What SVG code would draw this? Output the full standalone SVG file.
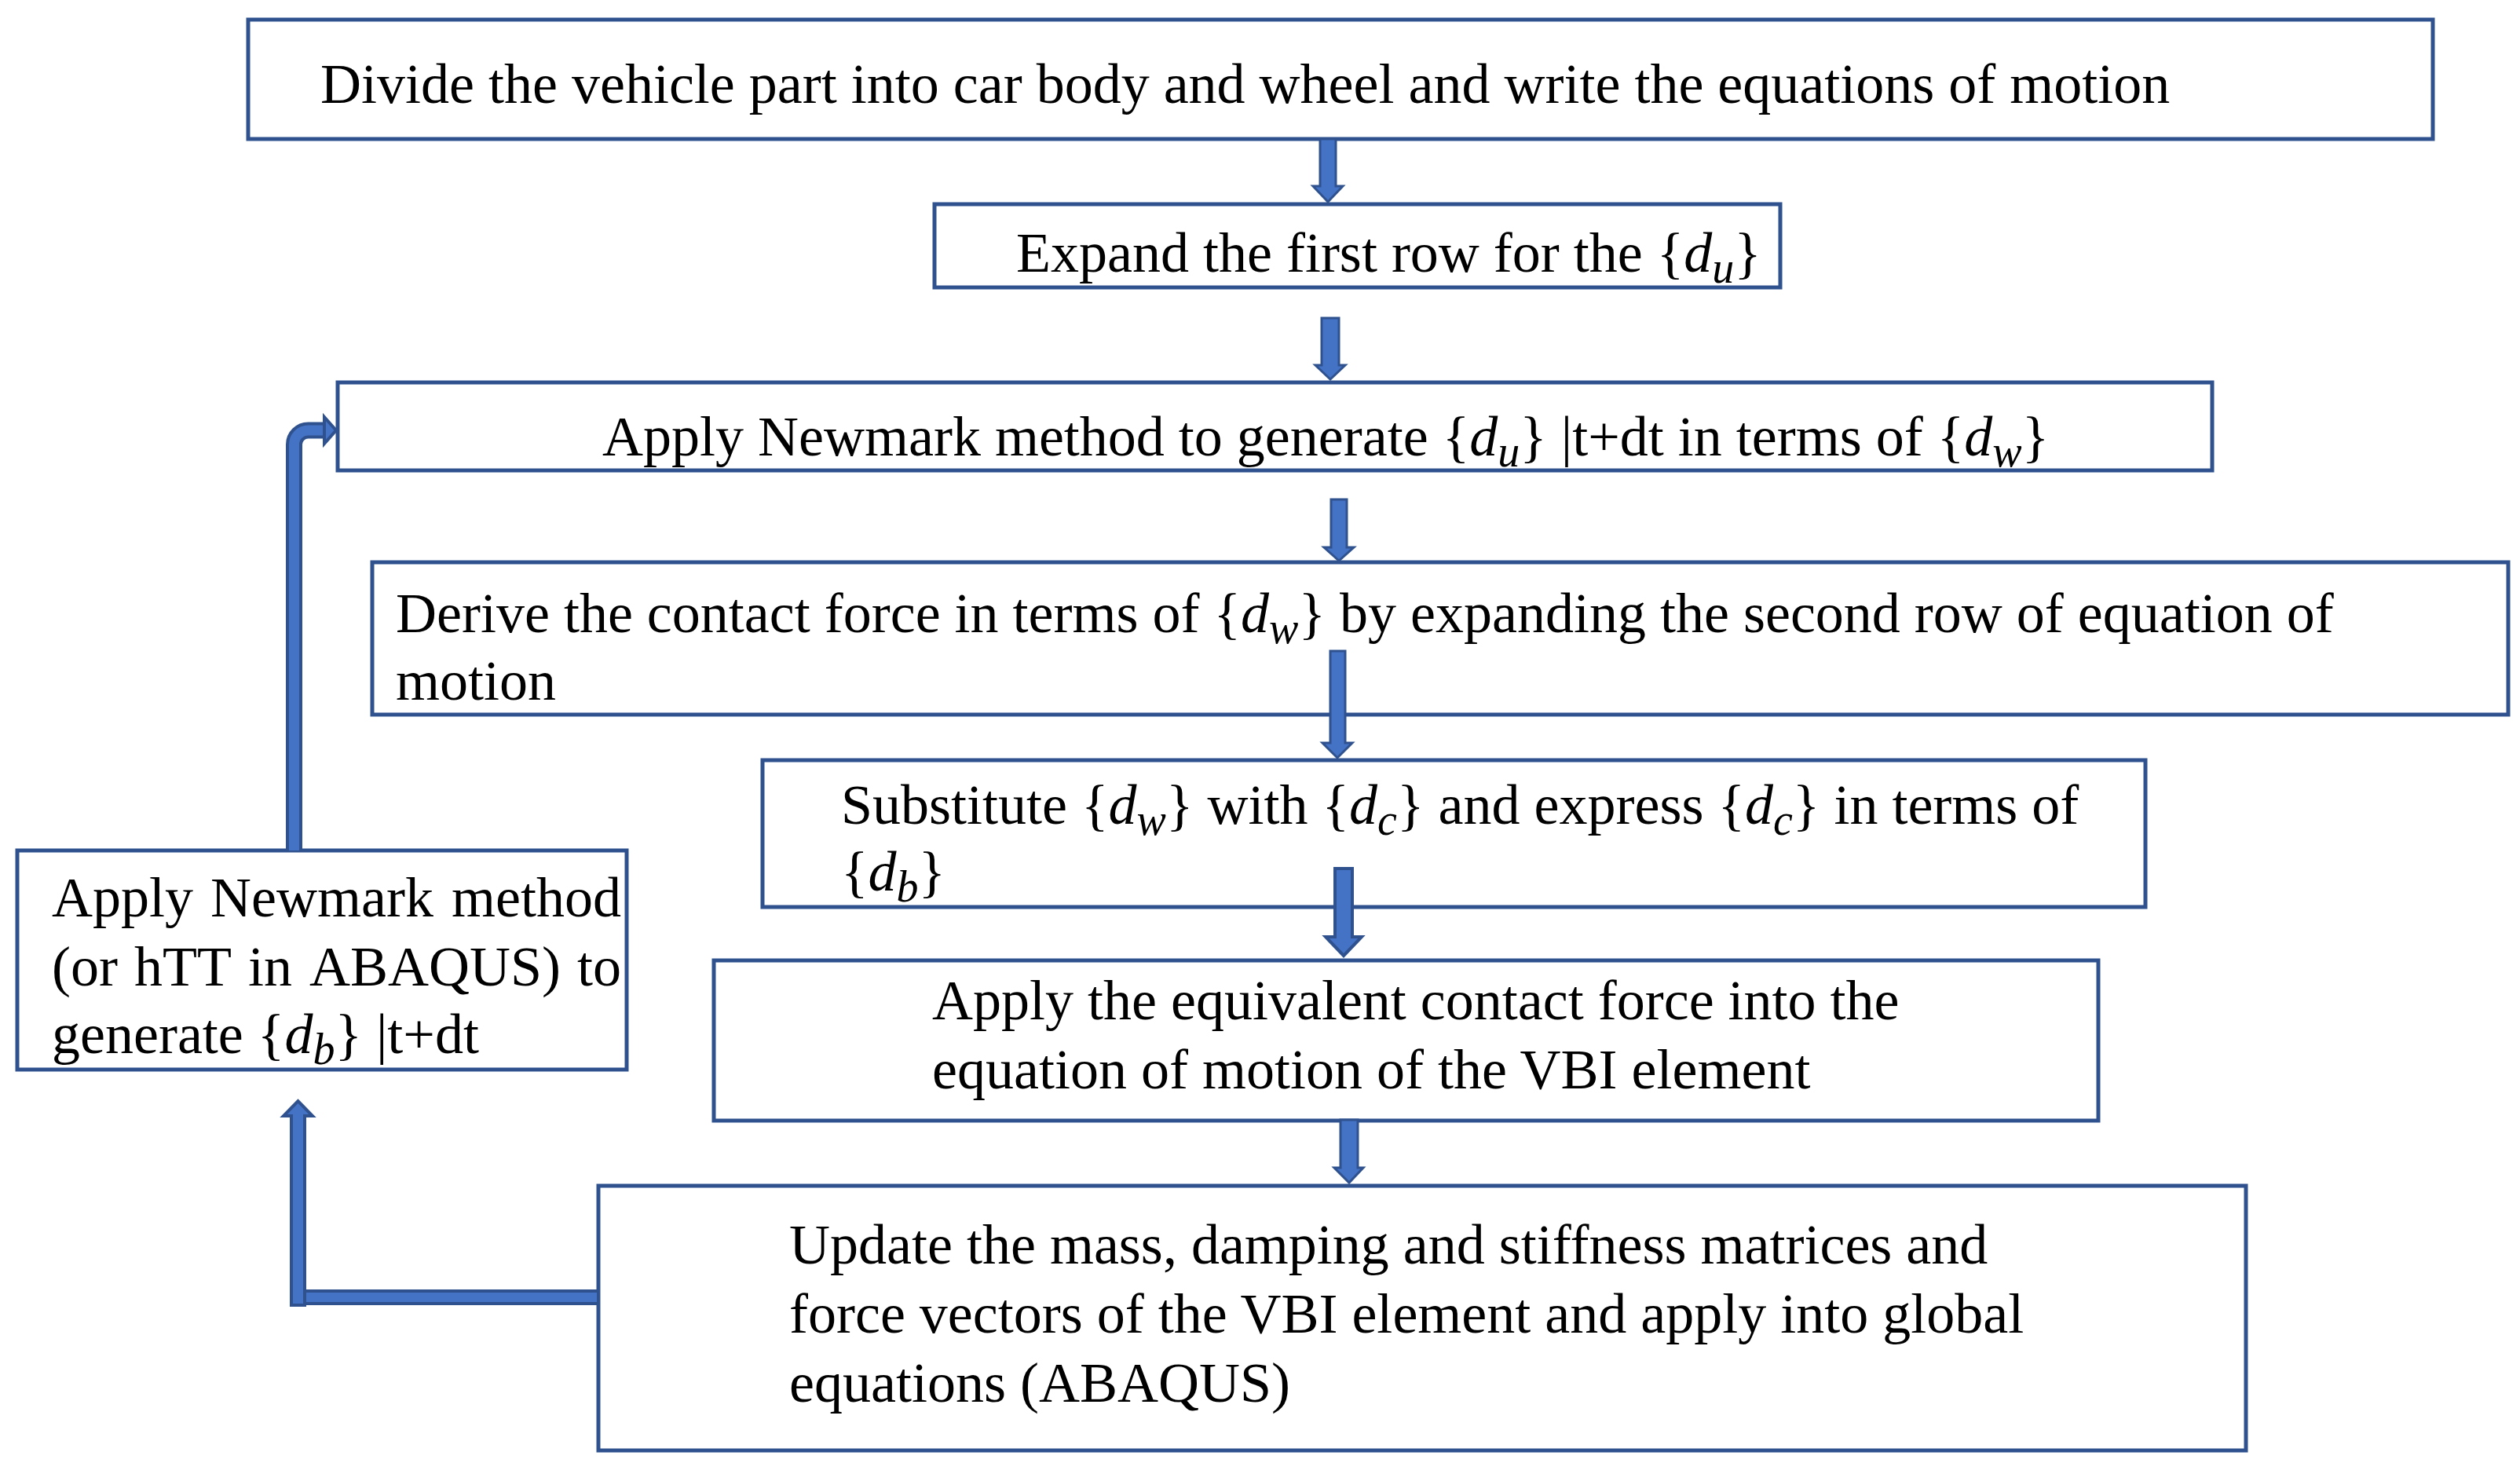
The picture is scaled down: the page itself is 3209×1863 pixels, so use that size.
<svg xmlns="http://www.w3.org/2000/svg" width="3209" height="1863" viewBox="0 0 3209 1863">
<style>
.box{fill:#ffffff;stroke:#2F528F;stroke-width:5}
.t{font-family:"Liberation Serif","Times New Roman",serif;font-size:72px;fill:#000000}
.i{font-style:italic}
.s{font-style:italic;font-size:56px}
.arr{fill:#4472C4;stroke:#2F528F;stroke-width:3;stroke-linejoin:miter}
</style>
<rect width="3209" height="1863" fill="#ffffff"/>
<g id="node1">
<rect class="box" x="316" y="25" width="2782" height="152"/>
<text class="t" x="408" y="131">Divide the vehicle part into car body and wheel and write the equations of motion</text>
</g>
<g id="node2">
<rect class="box" x="1190" y="260" width="1077" height="106"/>
<text class="t" x="1294" y="346">Expand the first row for the <tspan>{</tspan><tspan class="i">d</tspan><tspan class="s" dy="14">u</tspan><tspan dy="-14">}</tspan></text>
</g>
<g id="node3">
<rect class="box" x="430" y="487" width="2387" height="112"/>
<text class="t" x="767" y="580">Apply Newmark method to generate <tspan>{</tspan><tspan class="i">d</tspan><tspan class="s" dy="14">u</tspan><tspan dy="-14">}</tspan> |t+dt in terms of <tspan>{</tspan><tspan class="i">d</tspan><tspan class="s" dy="14">w</tspan><tspan dy="-14">}</tspan></text>
</g>
<g id="node4">
<rect class="box" x="474" y="716" width="2720" height="194"/>
<text class="t" x="504" y="805">Derive the contact force in terms of <tspan>{</tspan><tspan class="i">d</tspan><tspan class="s" dy="14">w</tspan><tspan dy="-14">}</tspan> by expanding the second row of equation of</text>
<text class="t" x="504" y="891">motion</text>
</g>
<g id="node5">
<rect class="box" x="971" y="968" width="1761" height="187"/>
<text class="t" x="1071" y="1049">Substitute <tspan>{</tspan><tspan class="i">d</tspan><tspan class="s" dy="14">w</tspan><tspan dy="-14">}</tspan> with <tspan>{</tspan><tspan class="i">d</tspan><tspan class="s" dy="14">c</tspan><tspan dy="-14">}</tspan> and express <tspan>{</tspan><tspan class="i">d</tspan><tspan class="s" dy="14">c</tspan><tspan dy="-14">}</tspan> in terms of</text>
<text class="t" x="1071" y="1134">{<tspan class="i">d</tspan><tspan class="s" dy="14">b</tspan><tspan dy="-14">}</tspan></text>
</g>
<g id="node6">
<rect class="box" x="22" y="1083" width="776" height="279"/>
<text class="t" y="1167"><tspan x="66">Apply</tspan><tspan x="268">Newmark</tspan><tspan x="575">method</tspan></text>
<text class="t" y="1255"><tspan x="66">(or</tspan><tspan x="171">hTT</tspan><tspan x="316">in</tspan><tspan x="394">ABAQUS)</tspan><tspan x="735">to</tspan></text>
<text class="t" x="66" y="1341">generate <tspan>{</tspan><tspan class="i">d</tspan><tspan class="s" dy="14">b</tspan><tspan dy="-14">}</tspan> |t+dt</text>
</g>
<g id="node7">
<rect class="box" x="909" y="1223" width="1763" height="204"/>
<text class="t" x="1187" y="1298">Apply the equivalent contact force into the</text>
<text class="t" x="1187" y="1386">equation of motion of the VBI element</text>
</g>
<g id="node8">
<rect class="box" x="762" y="1510" width="2098" height="337"/>
<text class="t" x="1005" y="1609">Update the mass, damping and stiffness matrices and</text>
<text class="t" x="1005" y="1697">force vectors of the VBI element and apply into global</text>
<text class="t" x="1005" y="1785">equations (ABAQUS)</text>
</g>
<g id="connectors">
<polygon class="arr" points="1681,177 1701,177 1701,237 1710,237 1691,257 1672,237 1681,237"/>
<polygon class="arr" points="1683,405 1705,405 1705,465 1713,465 1694,483 1675,465 1683,465"/>
<polygon class="arr" points="1695,636 1715,636 1715,697 1724,697 1705,714 1686,697 1695,697"/>
<polygon class="arr" points="1694,829 1713,829 1713,946 1722,946 1703,965 1684,946 1694,946"/>
<polygon class="arr" style="stroke-width:4" points="1700,1106 1722,1106 1722,1193 1734,1193 1711,1217 1688,1193 1700,1193"/>
<polygon class="arr" points="1707,1426 1729,1426 1729,1487 1736,1487 1718,1506 1699,1487 1707,1487"/>
<rect class="arr" style="stroke-width:4" x="372" y="1644" width="390" height="16"/>
<polygon class="arr" style="stroke-width:4" points="371,1662 388,1662 388,1421 398,1421 379.5,1402 361,1421 371,1421"/>
<path d="M374.5,1085 V566 A18,18 0 0 1 392.5,548 H414" fill="none" stroke="#2F528F" stroke-width="21"/>
<path d="M374.5,1083 V566 A18,18 0 0 1 392.5,548 H416" fill="none" stroke="#4472C4" stroke-width="13"/>
<polygon class="arr" style="stroke-width:4" points="413,531 428,548 413,565"/>
</g>
</svg>
